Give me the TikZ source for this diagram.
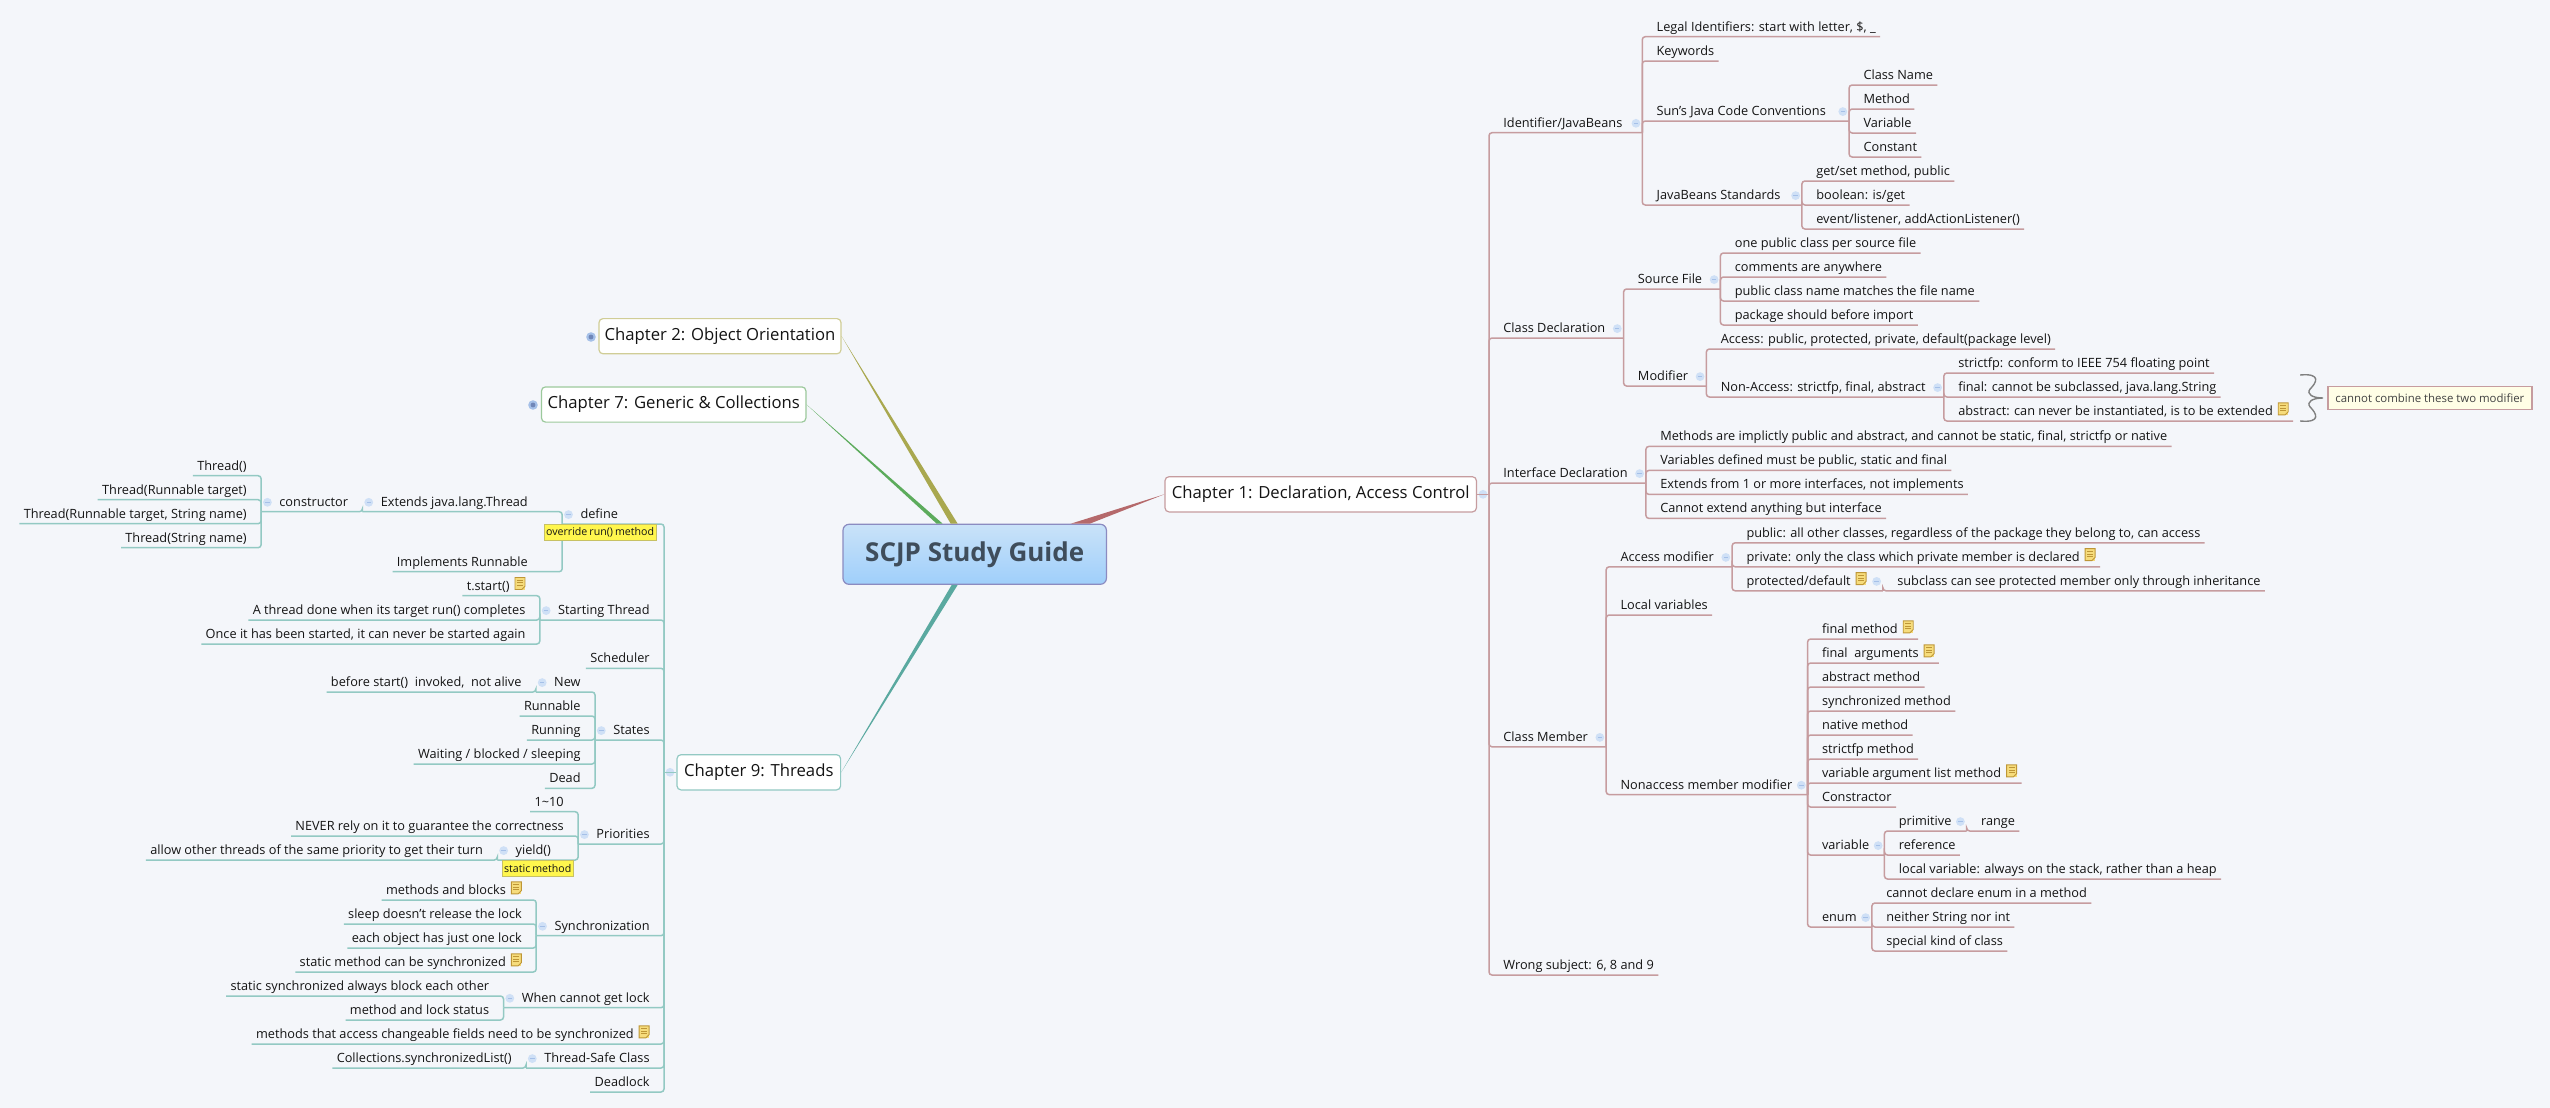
\documentclass[tikz,border=0pt]{standalone}
\usepackage{fontspec}
\setmainfont{Open Sans}
\usetikzlibrary{positioning,calc}

\definecolor{bgc}{HTML}{F4F6FA}
\definecolor{txt}{HTML}{141414}
\definecolor{rcol}{HTML}{C69C9F}
\definecolor{tcol}{HTML}{93C9C3}
\definecolor{dotc}{HTML}{CFE0F6}
\definecolor{dotm}{HTML}{A5C0E8}
\definecolor{dotd}{HTML}{6F86B8}
\definecolor{notef}{HTML}{F6DC7C}
\definecolor{notel}{HTML}{BE9636}
\definecolor{roott}{HTML}{C9E2F9}
\definecolor{rootb}{HTML}{9FCFFA}
\definecolor{rooti}{HTML}{3F4D5B}
\definecolor{c1line}{HTML}{B5696B}
\definecolor{c2line}{HTML}{A9A84F}
\definecolor{c7line}{HTML}{5CAB5C}
\definecolor{c9line}{HTML}{5AA9A0}

\newcommand{\hubmark}{\tikz[baseline=-1.9pt]{\fill[dotc] (0pt,0pt) circle (2.2pt); \fill[dotm] (-1.1pt,-.35pt) rectangle (1.1pt,.35pt);}}
\newcommand{\hubplus}{\tikz[baseline=-1.9pt]{\fill[dotm] (0pt,0pt) circle (2.4pt); \fill[dotd] (0pt,0pt) circle (1.2pt);}}
\newcommand{\hubr}{\hspace{3.8pt}\hubmark\kern-1.25pt}
\newcommand{\hubl}{\kern-1.25pt\hubmark\hspace{3.8pt}}
\newcommand{\notemark}{\hspace{2.5pt}\tikz[baseline=-.3pt]{\fill[notef] (0pt,0pt) rectangle (5pt,6pt); \draw[line width=.45pt,notel] (3.4pt,0pt) -- (0pt,0pt) -- (0pt,6pt) -- (5pt,6pt) -- (5pt,1.6pt) -- cycle; \draw[line width=.3pt,notel] (1pt,4.6pt) -- (4pt,4.6pt) (1pt,3.4pt) -- (4pt,3.4pt) (1pt,2.2pt) -- (4pt,2.2pt);}}
\newcommand{\tighter}{\spaceskip=1pt\relax}

\tikzset{
  leaf/.style={inner xsep=2pt,inner ysep=1pt,text height=5pt,text depth=1.6pt,text=txt,font=\fontsize{6.37}{8}\selectfont},
  joint/.style={inner sep=0pt,outer sep=0pt,minimum size=0pt},
  forkr/.style args={#1 of #2}{at={($(#2.south east)+(10,#1)$)},anchor=south west},
  forkl/.style args={#1 of #2}{at={($(#2.south west)+(-10,#1)$)},anchor=south east},
  downr/.style args={#1 of #2}{at={($(#2.south west)+(0,#1)$)},anchor=south west},
  downl/.style args={#1 of #2}{at={($(#2.south east)+(0,#1)$)},anchor=south east},
  rlink/.style={draw=rcol,line width=.75pt,rounded corners=1.5pt,to path={(\tikztostart.south east) |- (\tikztotarget.south west) -- (\tikztotarget.south east)}},
  tlink/.style={draw=tcol,line width=.75pt,rounded corners=1.5pt,to path={(\tikztostart.south west) |- (\tikztotarget.south east) -- (\tikztotarget.south west)}},
  chap/.style={draw=#1,fill=white,line width=.6pt,rounded corners=2pt,minimum height=17.6pt,inner sep=0pt,text height=6.2pt,text depth=2.4pt,text=txt,font=\fontsize{8.35}{10}\selectfont},
  yellowtag/.style={draw=yellow!50!gray,fill=yellow!70!white,line width=.4pt,inner xsep=1pt,inner ysep=0pt,minimum height=8.2pt,text=txt,font=\fontsize{5.3}{6}\selectfont},
  remark/.style={draw=rcol,fill=yellow!10!white,line width=.7pt,inner xsep=0pt,inner ysep=0pt,minimum width=102pt,minimum height=11.6pt,text=txt!80,font=\fontsize{5.7}{7}\selectfont},
}

\begin{document}
\begin{tikzpicture}[x=0.5pt,y=-0.5pt]
    \path[use as bounding box,fill=bgc] (0,0) rectangle (2550,1108);
    \node (root) [draw=gray!70!blue!70,top color=roott,bottom color=rootb,rounded corners=3pt,line width=.6pt,minimum width=131.7pt,minimum height=30pt,inner sep=0pt,text=rooti,font=\fontsize{13}{15}\selectfont\bfseries] at (974.7,554.3) {SCJP Study Guide};
    %%%%%%%%%
    \node (c1) [chap=rcol,minimum width=155.7pt] at (1320.7,494.3) {Chapter 1: Declaration, Access Control};
    \node (c2) [chap=yellow!40!gray!70,minimum width=121pt] at (720,336.2) {Chapter 2: Object Orientation};
    \node (c7) [chap=green!30!gray!60,minimum width=132.2pt] at (673.7,404.5) {Chapter 7: Generic \& Collections};
    \node (c9) [chap=tcol,minimum width=81.8pt] at (758.8,772.3) {Chapter 9: Threads};
    \node (c2h) [joint] at (591,337) {\hubplus};
    \node (c7h) [joint] at (533,405) {\hubplus};
    \node (c1h) [joint] at (1483,494.3) {\hubmark};
    \node (c9h) [joint] at (670,772.3) {\hubmark};
    \node (c1t) [joint] at (1489,494.3) {};
    \node (c9t) [joint] at (664,772.3) {};
    \fill[c1line] (c1.west) -- ($(root.north)+(96,0)$) -- ($(root.north)+(115,0)$) -- cycle;
    \fill[c2line] (c2.east) -- ($(root.north)+(-24,0)$) -- ($(root.north)+(-17,0)$) -- cycle;
    \fill[c7line] (c7.east) -- ($(root.north)+(-38,0)$) -- ($(root.north)+(-32,0)$) -- cycle;
    \fill[c9line] (c9.east) -- ($(root.south)+(-23,0)$) -- ($(root.south)+(-17,0)$) -- cycle;
    %%%%%%%%% chapter 1
    \node (c1a) [leaf,forkr=-361.6 of c1t] {Identifier/JavaBeans\kern.8pt\hubr};
    \node (c1b) [leaf,downr=205.3 of c1a] {Class Declaration\hubr};
    \node (c1c) [leaf,downr=145 of c1b] {Interface Declaration\hubr};
    \node (c1d) [leaf,downr=263.8 of c1c] {Class Member\hubr};
    \node (c1e) [leaf,downr=228.2 of c1d] {Wrong subject: 6, 8 and 9};
        \node (a1) [leaf,forkr=-96 of c1a] {Legal Identifiers: start with letter, \$, \_};
        \node (a2) [leaf,downr=24.3 of a1] {Keywords};
        \node (a3) [leaf,downr=60 of a2] {Sun's Java Code Conventions\kern2.5pt\hubr};
        \node (a4) [leaf,downr=84 of a3] {JavaBeans Standards\kern1.6pt\hubr};
            \node (a31) [leaf,forkr=-36 of a3] {Class Name};
            \node (a32) [leaf,downr=24 of a31] {Method};
            \node (a33) [leaf,downr=24 of a32] {Variable};
            \node (a34) [leaf,downr=24 of a33] {Constant};
            \node (a41) [leaf,forkr=-24 of a4] {get/set method, public};
            \node (a42) [leaf,downr=24 of a41] {boolean: is/get};
            \node (a43) [leaf,downr=24 of a42] {event/listener, addActionListener()};
        \node (b1) [leaf,forkr=-49 of c1b] {Source File\hubr};
        \node (b2) [leaf,downr=97 of b1] {Modifier\hubr};
            \node (b11) [leaf,forkr=-36 of b1] {one public class per source file};
            \node (b12) [leaf,downr=24 of b11] {comments are anywhere};
            \node (b13) [leaf,downr=24 of b12] {public class name matches the file name};
            \node (b14) [leaf,downr=24 of b13] {package should before import};
            \node (b21) [leaf,forkr=-37 of b2] {Access: public, protected, private, default(package level)};
            \node (b22) [leaf,downr=48 of b21] {Non-Access: strictfp, final, abstract\hubr};
                \node (b221) [leaf,forkr=-24 of b22] {strictfp: conform to IEEE 754 floating point};
                \node (b222) [leaf,downr=24 of b221] {final: cannot be subclassed, java.lang.String};
                \node (b223) [leaf,downr=24 of b222] {abstract: can never be instantiated, is to be extended\notemark};
        \node (c11) [leaf,forkr=-36.6 of c1c] {Methods are implictly public and abstract, and cannot be static, final, strictfp or native};
        \node (c12) [leaf,downr=24 of c11] {Variables defined must be public, static and final};
        \node (c13) [leaf,downr=24 of c12] {Extends from 1 or more interfaces, not implements};
        \node (c14) [leaf,downr=24 of c13] {Cannot extend anything but interface};
        \node (d1) [leaf,forkr=-180 of c1d] {Access modifier\hubr};
        \node (d2) [leaf,downr=48.2 of d1] {Local variables};
        \node (d3) [leaf,downr=179.6 of d2] {Nonaccess member modifier\kern-1.5pt\hubr};
            \node (d11) [leaf,forkr=-24 of d1] {public: all other classes, regardless of the package they belong to, can access};
            \node (d12) [leaf,downr=24 of d11] {private: only the class which private member is declared\notemark};
            \node (d13) [leaf,downr=24 of d12] {protected/default\notemark\kern-1pt\hubr};
                \node (d131) [leaf,forkr=0 of d13] {subclass can see protected member only through inheritance};
            \node (d31) [leaf,forkr=-155.6 of d3] {final method\notemark};
            \node (d32) [leaf,downr=24 of d31] {final\ \ arguments\notemark};
            \node (d33) [leaf,downr=24 of d32] {abstract method};
            \node (d34) [leaf,downr=24 of d33] {synchronized method};
            \node (d35) [leaf,downr=24 of d34] {native method};
            \node (d36) [leaf,downr=24 of d35] {strictfp method};
            \node (d37) [leaf,downr=24 of d36] {variable argument list method\notemark};
            \node (d38) [leaf,downr=24 of d37] {Constractor};
            \node (d39) [leaf,downr=48 of d38] {variable\kern-1.5pt\hubr};
            \node (d30) [leaf,downr=72 of d39] {enum\kern-1.5pt\hubr};
                \node (d391) [leaf,forkr=-24 of d39] {primitive\kern-1.5pt\hubr};
                \node (d392) [leaf,downr=24 of d391] {reference};
                \node (d393) [leaf,downr=24 of d392] {local variable: always on the stack, rather than a heap};
                    \node (d3911) [leaf,forkr=0 of d391] {range};
                \node (d301) [leaf,forkr=-24 of d30] {cannot declare enum in a method};
                \node (d302) [leaf,downr=24 of d301] {neither String nor int};
                \node (d303) [leaf,downr=24 of d302] {special kind of class};
    %%%%%%%%% remark on the two modifiers
    \coordinate (bb) at ($(b223.south east)+(7,0)$);
    \coordinate (bt) at ($(bb)+(0,-46)$);
    \begin{scope}[shift={(bt)}]
    \draw[gray,line width=.7pt] (0,0) .. controls (22,-2) and (16,8) .. (10,14) .. controls (6,19) and (12,23) .. (23,23) .. controls (12,23) and (6,27) .. (10,32) .. controls (16,38) and (22,48) .. (0,46);
    \end{scope}
    \node (b2n) [remark,anchor=west] at ($(bb)+(27,-23)$) {cannot combine these two modifier};
    %%%%%%%%% chapter 9
    \node (t1) [leaf,forkl=-248.3 of c9t] {\makebox[41.5pt][l]{\hubl define}};
    \node (t2) [leaf,downl=96 of t1] {\hubl Starting Thread};
    \node (t3) [leaf,downl=48.3 of t2] {Scheduler};
    \node (t4) [leaf,downl=71.7 of t3] {\hubl States};
    \node (t5) [leaf,downl=104 of t4] {\hubl Priorities};
    \node (t6) [leaf,downl=91.7 of t5] {\hubl Synchronization};
    \node (t7) [leaf,downl=72 of t6] {\hubl When cannot get lock};
    \node (t8) [leaf,downl=36.3 of t7] {methods that access changeable fields need to be synchronized\notemark};
    \node (t9) [leaf,downl=24 of t8] {\hubl Thread-Safe Class};
    \node (t0) [leaf,downl=24 of t9] {Deadlock};
        \node (t11) [leaf,forkl=-12.3 of t1,xshift=-10pt] {\hubl Extends java.lang.Thread};
        \node (t12) [leaf,downl=60 of t11] {Implements Runnable};
            \node (t111) [leaf,forkl=0 of t11] {\hubl constructor};
                \node (t1111) [leaf,forkl=-36 of t111] {Thread()};
                \node (t1112) [leaf,downl=24 of t1111] {Thread(Runnable target)};
                \node (t1113) [leaf,downl=24 of t1112] {Thread(Runnable target, String name)};
                \node (t1114) [leaf,downl=24 of t1113] {Thread(String name)};
        \node (t21) [leaf,forkl=-24.3 of t2] {t.start()\notemark};
        \node (t22) [leaf,downl=24.3 of t21] {A thread done when its target run() completes};
        \node (t23) [leaf,downl=24 of t22] {Once it has been started, it can never be started again};
        \node (t41) [leaf,forkl=-48 of t4] {\hubl New};
        \node (t42) [leaf,downl=24 of t41] {Runnable};
        \node (t43) [leaf,downl=24 of t42] {Running};
        \node (t44) [leaf,downl=24 of t43] {Waiting / blocked / sleeping};
        \node (t45) [leaf,downl=24.3 of t44] {Dead};
            \node (t411) [leaf,forkl=0 of t41] {before start()\ \ invoked,\ \ not alive};
        \node (t51) [leaf,forkl=-32.3 of t5] {1\textasciitilde10};
        \node (t52) [leaf,downl=24.3 of t51] {NEVER rely on it to guarantee the correctness};
        \node (t53) [leaf,downl=24 of t52] {\makebox[31pt][l]{\hubl yield()}};
            \node (t531) [leaf,forkl=0 of t53] {allow other threads of the same priority to get their turn};
        \node (t61) [leaf,forkl=-35.7 of t6] {methods and blocks\notemark};
        \node (t62) [leaf,downl=24 of t61] {sleep doesn't release the lock};
        \node (t63) [leaf,downl=24 of t62] {each object has just one lock};
        \node (t64) [leaf,downl=24 of t63] {static method can be synchronized\notemark};
        \node (t71) [leaf,forkl=-11.7 of t7] {static synchronized always block each other};
        \node (t72) [leaf,downl=24 of t71] {method and lock status};
        \node (t91) [leaf,forkl=0 of t9] {Collections.synchronizedList()};
    %%%%%%%%%%
            \draw[rcol,line width=.75pt] (c1) -- (c1t);
            \draw[rlink] (c1t) to (c1a);
            \draw[rlink] (c1t) to (c1b);
            \draw[rlink] (c1t) to (c1c);
            \draw[rlink] (c1t) to (c1d);
            \draw[rlink] (c1t) to (c1e);
            \draw[rlink] (c1a) to (a1);
            \draw[rlink] (c1a) to (a2);
            \draw[rlink] (c1a) to (a3);
            \draw[rlink] (c1a) to (a4);
            \draw[rlink] (a3) to (a31);
            \draw[rlink] (a3) to (a32);
            \draw[rlink] (a3) to (a33);
            \draw[rlink] (a3) to (a34);
            \draw[rlink] (a4) to (a41);
            \draw[rlink] (a4) to (a42);
            \draw[rlink] (a4) to (a43);
            \draw[rlink] (c1b) to (b1);
            \draw[rlink] (c1b) to (b2);
            \draw[rlink] (b1) to (b11);
            \draw[rlink] (b1) to (b12);
            \draw[rlink] (b1) to (b13);
            \draw[rlink] (b1) to (b14);
            \draw[rlink] (b2) to (b21);
            \draw[rlink] (b2) to (b22);
            \draw[rlink] (b22) to (b221);
            \draw[rlink] (b22) to (b222);
            \draw[rlink] (b22) to (b223);
            \draw[rlink] (c1c) to (c11);
            \draw[rlink] (c1c) to (c12);
            \draw[rlink] (c1c) to (c13);
            \draw[rlink] (c1c) to (c14);
            \draw[rlink] (c1d) to (d1);
            \draw[rlink] (c1d) to (d2);
            \draw[rlink] (c1d) to (d3);
            \draw[rlink] (d1) to (d11);
            \draw[rlink] (d1) to (d12);
            \draw[rlink] (d1) to (d13);
            \draw[rlink] (d13) to (d131);
            \draw[rlink] (d3) to (d31);
            \draw[rlink] (d3) to (d32);
            \draw[rlink] (d3) to (d33);
            \draw[rlink] (d3) to (d34);
            \draw[rlink] (d3) to (d35);
            \draw[rlink] (d3) to (d36);
            \draw[rlink] (d3) to (d37);
            \draw[rlink] (d3) to (d38);
            \draw[rlink] (d3) to (d39);
            \draw[rlink] (d3) to (d30);
            \draw[rlink] (d39) to (d391);
            \draw[rlink] (d39) to (d392);
            \draw[rlink] (d39) to (d393);
            \draw[rlink] (d391) to (d3911);
            \draw[rlink] (d30) to (d301);
            \draw[rlink] (d30) to (d302);
            \draw[rlink] (d30) to (d303);
            \draw[tcol,line width=.75pt] (c9) -- (c9t);
            \draw[tlink] (c9t) to (t1);
            \draw[tlink] (c9t) to (t2);
            \draw[tlink] (c9t) to (t3);
            \draw[tlink] (c9t) to (t4);
            \draw[tlink] (c9t) to (t5);
            \draw[tlink] (c9t) to (t6);
            \draw[tlink] (c9t) to (t7);
            \draw[tlink] (c9t) to (t8);
            \draw[tlink] (c9t) to (t9);
            \draw[tlink] (c9t) to (t0);
            \draw[tlink] (t1) to (t11);
            \draw[tlink] (t1) to (t12);
            \draw[tlink] (t11) to (t111);
            \draw[tlink] (t111) to (t1111);
            \draw[tlink] (t111) to (t1112);
            \draw[tlink] (t111) to (t1113);
            \draw[tlink] (t111) to (t1114);
            \draw[tlink] (t2) to (t21);
            \draw[tlink] (t2) to (t22);
            \draw[tlink] (t2) to (t23);
            \draw[tlink] (t4) to (t41);
            \draw[tlink] (t4) to (t42);
            \draw[tlink] (t4) to (t43);
            \draw[tlink] (t4) to (t44);
            \draw[tlink] (t4) to (t45);
            \draw[tlink] (t41) to (t411);
            \draw[tlink] (t5) to (t51);
            \draw[tlink] (t5) to (t52);
            \draw[tlink] (t5) to (t53);
            \draw[tlink] (t53) to (t531);
            \draw[tlink] (t6) to (t61);
            \draw[tlink] (t6) to (t62);
            \draw[tlink] (t6) to (t63);
            \draw[tlink] (t6) to (t64);
            \draw[tlink] (t7) to (t71);
            \draw[tlink] (t7) to (t72);
            \draw[tlink] (t9) to (t91);
    %%%%%%%%%%
    \node (t1n) [yellowtag,anchor=north] at ($(t1.south)+(-8,0)$) {\tighter override run() method};
    \node (t53n) [yellowtag,anchor=north] at ($(t53.south)+(5,0)$) {\tighter static method};
\end{tikzpicture}
\end{document}
